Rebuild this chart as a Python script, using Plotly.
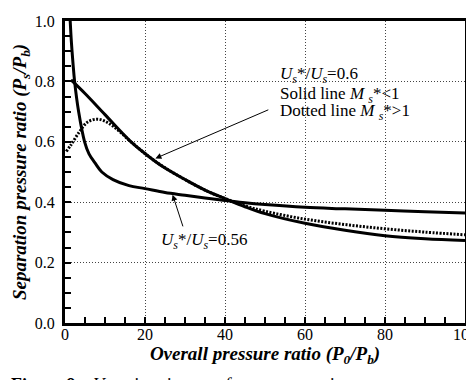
import plotly.graph_objects as go

# Us*/Us = 0.56 (solid)
x_056 = [1.3, 1.6, 2.0, 2.4, 3.4, 4.9, 6.0, 7.5, 9.2, 12, 16, 20, 25, 30, 35, 40, 45, 50, 60, 70, 80, 90, 100]
y_056 = [1.0, 0.93, 0.86, 0.80, 0.70, 0.60, 0.56, 0.53, 0.50, 0.475, 0.455, 0.445, 0.432, 0.423, 0.414, 0.406, 0.398, 0.392, 0.383, 0.378, 0.373, 0.368, 0.364]

# Us*/Us = 0.6, Ms* < 1 (solid)
x_06s = [1.5, 5, 10, 16.5, 22.6, 25, 30, 35, 40, 45, 50, 60, 70, 80, 90, 100]
y_06s = [0.805, 0.76, 0.69, 0.60, 0.535, 0.513, 0.475, 0.44, 0.412, 0.385, 0.362, 0.33, 0.307, 0.289, 0.279, 0.273]

# Us*/Us = 0.6, Ms* > 1 (dotted)
x_06d = [0.3, 1.5, 3.6, 5.6, 8, 10, 12, 14, 16.5, 22.6, 30, 35, 40, 45, 50, 60, 70, 80, 90, 100]
y_06d = [0.568, 0.59, 0.633, 0.665, 0.675, 0.668, 0.652, 0.63, 0.60, 0.535, 0.475, 0.44, 0.412, 0.388, 0.37, 0.344, 0.326, 0.312, 0.301, 0.292]

x_ticks = [0, 20, 40, 60, 80, 100]
y_ticks = [0.0, 0.2, 0.4, 0.6, 0.8, 1.0]
y_tick_labels = ["0.0", "0.2", "0.4", "0.6", "0.8", "1.0"]

FONT = "Liberation Serif"

fig = go.Figure()
fig.add_trace(go.Scatter(x=x_056, y=y_056, mode="lines", line=dict(color="black", width=3, shape="spline"), showlegend=False))
fig.add_trace(go.Scatter(x=x_06s, y=y_06s, mode="lines", line=dict(color="black", width=3, shape="spline"), showlegend=False))
fig.add_trace(go.Scatter(x=x_06d, y=y_06d, mode="lines", line=dict(color="black", width=3, dash="2px,1.5px", shape="spline"), showlegend=False))

axis_common = dict(
    showline=True, linecolor="black", linewidth=3, mirror=True,
    showgrid=True, gridcolor="#444", gridwidth=1, griddash="1px,2px",
    ticks="inside", ticklen=6, tickwidth=1.5, tickcolor="black",
    zeroline=False, ticklabeloverflow="allow",
    tickfont=dict(family=FONT, size=16, color="black"),
)

fig.update_xaxes(range=[0, 100], tickvals=x_ticks, ticklabelstandoff=-5,
                 minor=dict(dtick=5, ticks="inside", ticklen=6, tickwidth=1.5, tickcolor="black", showgrid=False),
                 title=dict(text="<b><i>Overall pressure ratio (P<sub>0</sub>/P<sub>b</sub>)</i></b>",
                            font=dict(family=FONT, size=19, color="black"), standoff=0),
                 **axis_common)
fig.update_yaxes(range=[0, 1], tickvals=y_ticks, ticktext=y_tick_labels, ticklabelstandoff=4,
                 minor=dict(dtick=0.05, ticks="inside", ticklen=6, tickwidth=1.5, tickcolor="black", showgrid=False),
                 title=dict(text="<b><i>Separation pressure ratio (P<sub>s</sub>/P<sub>b</sub>)</i></b>",
                            font=dict(family=FONT, size=19, color="black"), standoff=4),
                 **axis_common)

ann_font = dict(family=FONT, size=17, color="black")
annotations = [
    dict(x=53.2, y=0.821, text="<i>U<sub>s</sub></i>*/<i>U<sub>s</sub></i>=0.6", xanchor="left", yanchor="middle", showarrow=False, font=ann_font),
    dict(x=53.2, y=0.756, text="Solid line <i>M <sub>s</sub></i>*&lt;1", xanchor="left", yanchor="middle", showarrow=False, font=ann_font),
    dict(x=53.2, y=0.698, text="Dotted line <i>M <sub>s</sub></i>*&gt;1", xanchor="left", yanchor="middle", showarrow=False, font=ann_font),
    dict(x=23.5, y=0.27, text="<i>U<sub>s</sub></i>*/<i>U<sub>s</sub></i>=0.56", xanchor="left", yanchor="middle", showarrow=False, font=ann_font),
    dict(x=22.6, y=0.545, ax=51.2, ay=0.708, axref="x", ayref="y", text="", showarrow=True,
         arrowhead=2, arrowsize=1.2, arrowwidth=1, arrowcolor="black"),
    dict(x=26.9, y=0.425, ax=29.6, ay=0.315, axref="x", ayref="y", text="", showarrow=True,
         arrowhead=2, arrowsize=1.2, arrowwidth=1, arrowcolor="black"),
    dict(x=-0.14, y=-0.205, xref="paper", yref="paper", xanchor="left", yanchor="middle", showarrow=False,
         text="<b>Figure 8</b>    <i>V a r i a t i o n   o f   s e p a r a t i o n   p r e s s u r e   r a t i o</i>",
         font=dict(family=FONT, size=18, color="black")),
]

fig.update_layout(
    width=474, height=380,
    margin=dict(l=57, r=5, t=7, b=65),
    plot_bgcolor="white", paper_bgcolor="white",
    font=dict(family=FONT),
    annotations=annotations,
    showlegend=False,
)

fig.write_html("out.html")
